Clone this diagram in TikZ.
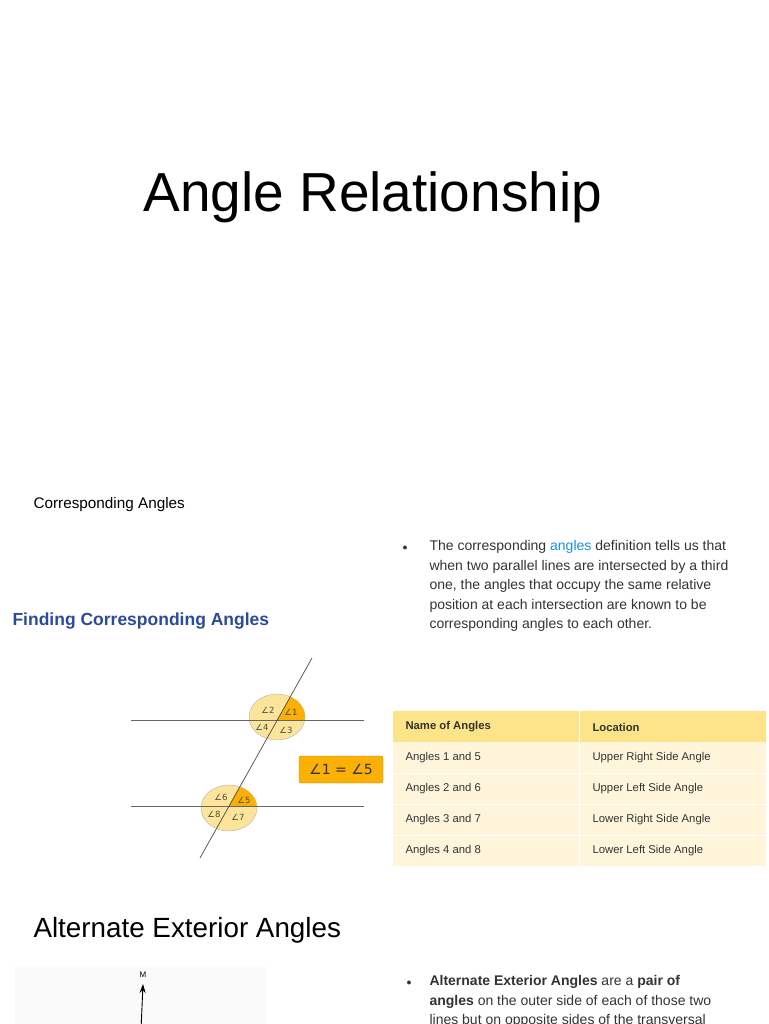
\documentclass[tikz,border=0pt]{standalone}
\usepackage{fontspec}
\usetikzlibrary{arrows.meta}
\setmainfont{Liberation Sans}
\newfontfamily\dv{DejaVu Sans}
\definecolor{hdr}{HTML}{FDE488}
\definecolor{rowc}{HTML}{FEF5DA}
\definecolor{ell}{HTML}{FCE49A}
\definecolor{org}{HTML}{FAB005}
\definecolor{blu}{HTML}{2A4A9A}
\definecolor{lnk}{HTML}{1A8FE0}
\definecolor{txt}{HTML}{333333}
\begin{document}
\begin{tikzpicture}[x=1pt,y=-1pt,
  cell/.style={anchor=west,font=\fontsize{11.3}{13}\selectfont,text=txt},
  lab/.style={font=\dv\fontsize{8.5}{9}\selectfont,text=black!70},
  bul/.style={anchor=north west,align=left,text=txt,font=\fontsize{14}{19.5}\selectfont}]
\useasboundingbox (0,0) rectangle (768,1024);
\clip (0,0) rectangle (768,1024);
\node[anchor=west,font=\fontsize{55}{60}\selectfont] (title) at (140,197) {Angle Relationship};
\node[anchor=west,font=\fontsize{15.3}{17}\selectfont] (ca) at (30,505) {Corresponding Angles};
\node[anchor=west,font=\bfseries\fontsize{17.5}{20}\selectfont,text=blu] (fca) at (9,621) {Finding Corresponding Angles};
% bullet 1
\node[font=\fontsize{9}{9}\selectfont,text=txt] (b1) at (405,548) {●};
\node[bul] (t1) at (426,537) {The corresponding \textcolor{lnk}{angles} definition tells us that\\when two parallel lines are intersected by a third\\one, the angles that occupy the same relative\\position at each intersection are known to be\\corresponding angles to each other.};
% ellipses
\coordinate (P) at (277.3,720);
\coordinate (Q) at (229,806);
\fill[ell,draw=black!30] (277,717) ellipse (28 and 23);
\fill[ell,draw=black!30] (229,808) ellipse (28 and 23);
\begin{scope}
\clip (277,717) ellipse (28 and 23);
\fill[org] (P) -- (312,658) -- (330,658) -- (330,720) -- cycle;
\end{scope}
\begin{scope}
\clip (229,808) ellipse (28 and 23);
\fill[org] (Q) -- (312,658) -- (330,658) -- (330,806) -- cycle;
\end{scope}
\coordinate (h1a) at (131,720); \coordinate (h1b) at (364,720);
\coordinate (h2a) at (131,806); \coordinate (h2b) at (364,806);
\coordinate (ta) at (312,658); \coordinate (tb) at (200,858);
\draw[black!60,line width=0.7pt] (h1a) -- (h1b);
\draw[black!60,line width=0.7pt] (h2a) -- (h2b);
\draw[black!70,line width=0.7pt] (ta) -- (tb);
\node[lab] (a2) at (268,710) {∠2};
\node[lab] (a1) at (291,712) {∠1};
\node[lab] (a4) at (262,727) {∠4};
\node[lab] (a3) at (286,730) {∠3};
\node[lab] (a6) at (221,797) {∠6};
\node[lab] (a5) at (244,800) {∠5};
\node[lab] (a8) at (214,814) {∠8};
\node[lab] (a7) at (238,817) {∠7};
\node[draw=org!80!black,fill=org,rounded corners=2pt,minimum width=84pt,minimum height=27pt,font=\dv\fontsize{14}{16}\selectfont,text=black!80] (eq) at (341,769.5) {∠1 = ∠5};
% table
\fill[hdr] (393,711) rectangle (766,742);
\fill[rowc] (393,742) rectangle (766,866);
\foreach \y in {773,804,835}{\draw[white,line width=1pt] (393,\y) -- (766,\y);}
\draw[white,line width=1pt] (579,711) -- (579,866);
\node[cell,font=\bfseries\fontsize{11.3}{13}\selectfont] (h1) at (402,727) {Name of Angles};
\node[cell,font=\bfseries\fontsize{11.3}{13}\selectfont] (h2) at (589,727) {Location};
\node[cell] (r1a) at (402,758) {Angles 1 and 5};
\node[cell] (r1b) at (589,758) {Upper Right Side Angle};
\node[cell] (r2a) at (402,789) {Angles 2 and 6};
\node[cell] (r2b) at (589,789) {Upper Left Side Angle};
\node[cell] (r3a) at (402,820) {Angles 3 and 7};
\node[cell] (r3b) at (589,820) {Lower Right Side Angle};
\node[cell] (r4a) at (402,851) {Angles 4 and 8};
\node[cell] (r4b) at (589,851) {Lower Left Side Angle};
% alternate exterior
\node[anchor=west,font=\fontsize{27.8}{30}\selectfont] (aea) at (30,930) {Alternate Exterior Angles};
\fill[black!2] (15,966) rectangle (266,1024);
\node[font=\fontsize{8}{8}\selectfont] (M) at (143,975) {M};
\coordinate (mb) at (141,1030); \coordinate (mt) at (143,984);
\draw[-{Stealth[length=9pt,width=6pt]},line width=0.9pt] (mb) -- (mt);
\node[font=\fontsize{9}{9}\selectfont,text=txt] (b2) at (409,983) {●};
\node[bul] (t2) at (426,972) {\textbf{Alternate Exterior Angles} are a \textbf{pair of}\\\textbf{angles} on the outer side of each of those two\\lines but on opposite sides of the transversal};
\end{tikzpicture}
\end{document}
